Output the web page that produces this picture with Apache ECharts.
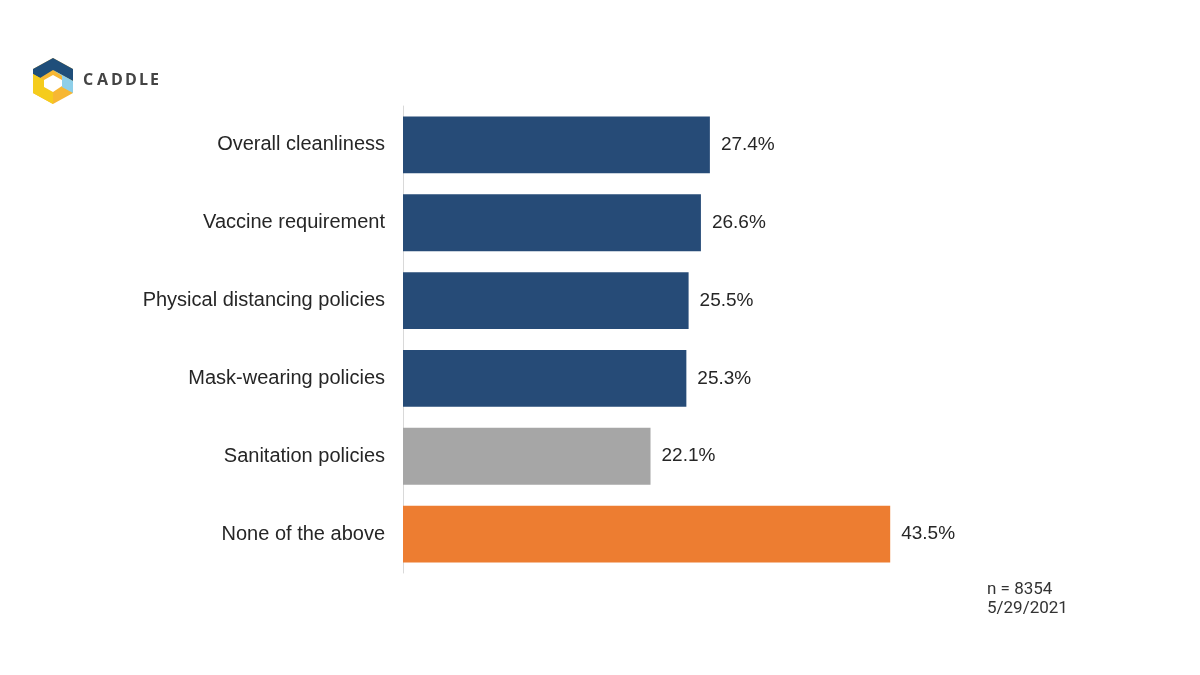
<!DOCTYPE html>
<html>
<head>
<meta charset="utf-8">
<script src="https://cdn.jsdelivr.net/npm/echarts@6/dist/echarts.min.js"></script>
<style>
  html, body { margin: 0; padding: 0; background: #fff; }
  #chart { width: 1200px; height: 675px; }
</style>
</head>
<body>
<div id="chart"></div>
<script>
// Datos del gráfico
const categories = [
    'Overall cleanliness',
    'Vaccine requirement',
    'Physical distancing policies',
    'Mask-wearing policies',
    'Sanitation policies',
    'None of the above'
];
const values = [27.4, 26.6, 25.5, 25.3, 22.1, 43.5];
const barColors = ['#264b77', '#264b77', '#264b77', '#264b77', '#a6a6a6', '#ed7d31'];
const footnotes = ['n = 8354', '5/29/2021'];
const brand = 'CADDLE';

const chart = echarts.init(document.getElementById('chart'));

// Logo simple con polígonos
const logo = [
    { type: 'polygon', shape: { points: [[53, 58], [73, 69], [73, 93], [53, 104], [33, 93], [33, 69]] }, style: { fill: '#f7b733' } },
    { type: 'polygon', shape: { points: [[53, 58], [73, 69], [73, 81], [53, 70], [40, 78], [33, 74], [33, 69]] }, style: { fill: '#1f4e7a' } },
    { type: 'polygon', shape: { points: [[53, 70], [73, 81], [73, 93], [62, 87], [62, 76]] }, style: { fill: '#8ecfe9' } },
    { type: 'polygon', shape: { points: [[33, 74], [44, 80], [44, 87], [53, 92], [53, 104], [33, 93]] }, style: { fill: '#f5cc1c' } },
    { type: 'polygon', shape: { points: [[44, 80], [53, 75], [62, 80], [62, 86], [53, 92], [44, 87]] }, style: { fill: '#ffffff' } }
];

// Letras del logo espaciadas a mano
const letterX = [83, 97, 111, 125, 139, 150];
brand.split('').forEach((ch, i) => {
    logo.push({
        type: 'text', left: letterX[i], top: 72,
        style: { text: ch, font: 'bold 16px "Open Sans", sans-serif', fill: '#444' }
    });
});

const option = {
    backgroundColor: '#ffffff',
    animation: false,
    grid: { left: 403, top: 106, width: 560, height: 467, containLabel: false },
    xAxis: {
        type: 'value',
        min: 0,
        max: 50,
        show: false
    },
    yAxis: {
        type: 'category',
        data: categories,
        inverse: true,
        axisLine: { show: true, lineStyle: { color: '#d9d9d9', width: 1 } },
        axisTick: { show: false },
        axisLabel: {
            margin: 18,
            fontSize: 20,
            color: '#262626',
            fontFamily: 'Liberation Sans, Arial, sans-serif'
        }
    },
    series: [
        {
            type: 'bar',
            barCategoryGap: '27%',
            data: values.map((v, i) => ({ value: v, itemStyle: { color: barColors[i] } })),
            label: {
                show: true,
                position: 'right',
                distance: 11,
                fontSize: 19,
                color: '#262626',
                fontFamily: 'Liberation Sans, Arial, sans-serif',
                formatter: p => p.value.toFixed(1) + '%'
            }
        }
    ],
    graphic: logo.concat([
        {
            type: 'text', left: 987, top: 580,
            style: { text: footnotes.join('\n'), font: '17px Roboto, sans-serif', fill: '#333', lineHeight: 19 }
        }
    ])
};

chart.setOption(option);
</script>
</body>
</html>
